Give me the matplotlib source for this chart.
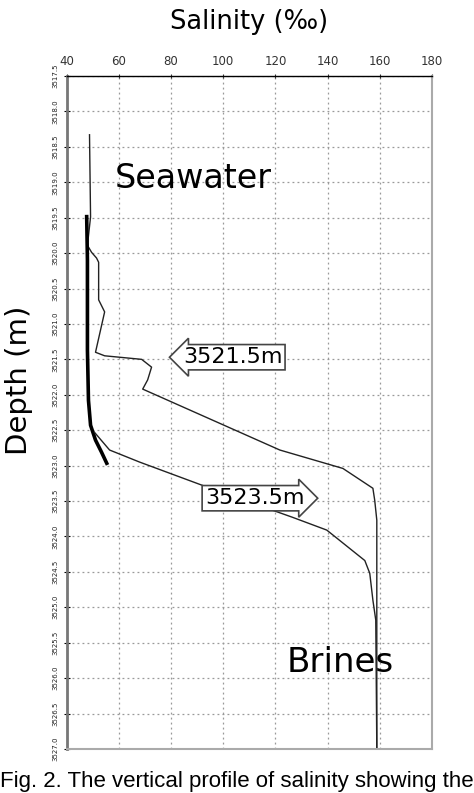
import numpy as np
import matplotlib.pyplot as plt

# salinity (per mil) vs depth (m)
sal_a = [48.7, 49.1, 47.9, 49.5, 51.4, 52.2, 52.2, 54.5, 51.0, 54.5, 68.7, 72.5,
         71.0, 69.1, 121.7, 145.9, 157.4, 158.1, 158.9, 158.9]
dep_a = [3518.33, 3519.49, 3519.89, 3519.99, 3520.07, 3520.13, 3520.66, 3520.83,
         3521.40, 3521.45, 3521.50, 3521.61, 3521.79, 3521.92, 3522.78, 3523.04,
         3523.32, 3523.49, 3523.77, 3527.0]

sal_b = [47.6, 47.9, 47.9, 48.3, 49.1, 51.0, 53.3, 55.6]
dep_b = [3519.46, 3520.10, 3521.37, 3522.08, 3522.43, 3522.64, 3522.81, 3522.99]

sal_c = [50.6, 56.4, 67.9, 92.1, 126.6, 139.7, 154.3, 156.2, 157.4, 158.5, 158.9]
dep_c = [3522.53, 3522.78, 3522.95, 3523.28, 3523.73, 3523.91, 3524.34, 3524.52,
         3524.90, 3525.18, 3527.0]

x_ticks = [40, 60, 80, 100, 120, 140, 160, 180]
y_ticks = np.arange(3517.5, 3527.01, 0.5)

fig = plt.figure(figsize=(4.74, 7.93), dpi=100)
ax = fig.add_axes([0.141, 0.0555, 0.770, 0.8487])

ax.plot(sal_a, dep_a, color='#222222', lw=1.0)
ax.plot(sal_b, dep_b, color='black', lw=2.6, solid_capstyle='butt')
ax.plot(sal_c, dep_c, color='#222222', lw=1.0)

ax.set_xlim(40, 180)
ax.set_ylim(3527.0, 3517.5)
ax.xaxis.tick_top()
ax.set_xticks(x_ticks)
ax.set_yticks(y_ticks)
ax.set_yticklabels([f'{v:.1f}' for v in y_ticks], rotation=90, fontsize=5,
                   va='center', color='#222222')
ax.tick_params(axis='x', labelsize=8.5, length=3, direction='inout', pad=4,
               colors='#333333')
ax.tick_params(axis='y', length=4, direction='inout', pad=4)
ax.grid(True, ls=(0, (1.5, 2.5)), color='#999999', lw=0.9)

ax.spines['top'].set_color('black')
ax.spines['top'].set_linewidth(1.0)
ax.spines['left'].set_color('#777777')
ax.spines['left'].set_linewidth(2.0)
for s in ['right', 'bottom']:
    ax.spines[s].set_color('#aaaaaa')
    ax.spines[s].set_linewidth(1.5)

ax.set_title('Salinity (‰)', fontsize=18.5, pad=34)
ax.set_ylabel('Depth (m)', fontsize=21)
ax.yaxis.set_label_coords(-0.093, 0.548)

ax.text(88.3, 3518.95, 'Seawater', fontsize=24, va='center', ha='center')
ax.text(145, 3525.78, 'Brines', fontsize=24.5, va='center', ha='center')

ax.text(103.6, 3521.47, '3521.5m', fontsize=16, va='center', ha='center',
        bbox=dict(boxstyle='larrow,pad=0.12', fc='white', ec='#444444', lw=1.2))
ax.text(112, 3523.46, '3523.5m', fontsize=16, va='center', ha='center',
        bbox=dict(boxstyle='rarrow,pad=0.12', fc='white', ec='#444444', lw=1.2))

fig.text(0.0, 0.0076, 'Fig. 2. The vertical profile of salinity showing the',
         fontsize=16, family='Liberation Sans', ha='left', va='baseline')

fig.savefig('out.png', dpi=100)
